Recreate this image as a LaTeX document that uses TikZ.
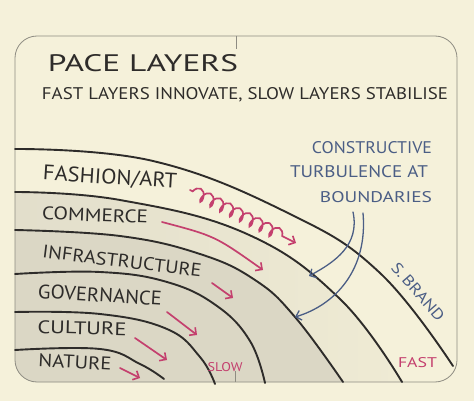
\documentclass[tikz,border=0pt]{standalone}
\usepackage{fontspec}
\setmainfont{PT Sans}
\usepackage{graphicx}
\usetikzlibrary{arrows.meta,decorations.pathmorphing}
\definecolor{bgc}{HTML}{F5F1DA}
\definecolor{bandlight}{HTML}{E2DECB}
\definecolor{bandfade}{HTML}{EFEBD4}
\definecolor{banddark}{HTML}{DBD7C5}
\definecolor{ink}{HTML}{2E2C2A}
\definecolor{pinkink}{HTML}{C4406E}
\definecolor{blueink}{HTML}{4B5E85}
\definecolor{edge}{HTML}{8E8C82}
\newcommand{\handtxt}[3]{\resizebox{#1pt}{#2pt}{#3}}
\tikzset{
  layer/.style={draw=ink, line width=1.9pt, line cap=round},
  lbl/.style={inner sep=0pt, text=ink},
  pinklbl/.style={inner sep=0pt, text=pinkink},
  bluelbl/.style={inner sep=0pt, text=blueink},
  pinkarrow/.style={draw=pinkink, line width=1.7pt, line cap=round,
    -{Straight Barb[length=5pt,width=10pt,line width=1.6pt]}},
  bluearrow/.style={draw=blueink, line width=1.3pt, line cap=round,
    -{Straight Barb[length=5pt,width=10pt,line width=1.3pt]}},
  tickmark/.style={draw=edge, line width=0.6pt}
}
\begin{document}
\begin{tikzpicture}[x=1pt,y=-1pt]
\useasboundingbox (0,0) rectangle (474,401);
\fill[bgc] (0,0) rectangle (474,401);
% shading of the slower layers
\begin{scope}
  \clip[rounded corners=22pt] (15,36) rectangle (457,382);
  \shade[left color=bandlight, right color=bandfade]
    plot[smooth, tension=0.7] coordinates {(15,192) (120,200) (247,234) (340,299) (402,384)}
    -- (15,384) -- cycle;
  \fill[banddark]
    plot[smooth, tension=0.7] coordinates {(15,230) (120,236) (200,254) (255,280) (295,317) (343,384)}
    -- (15,384) -- cycle;
\end{scope}
% card
\draw[edge, line width=0.8pt, rounded corners=22pt] (15,36) rectangle (457,382);
\draw[tickmark] (236,36) -- (236,49);
\draw[tickmark] (235,371) -- (235,382);
% titles
\node[lbl] (title) at (143,63.5) {\handtxt{190}{17}{PACE LAYERS}};
\node[lbl] (subtitle) at (245,94.5) {\handtxt{406}{12}{FAST LAYERS INNOVATE, SLOW LAYERS STABILISE}};
% layer lines
\draw[layer] plot[smooth, tension=0.7] coordinates {(15,149) (153,161) (290,214) (380,273) (453,366)};
\draw[layer] plot[smooth, tension=0.7] coordinates {(15,192) (120,200) (247,234) (340,299) (402,382)};
\draw[layer] plot[smooth, tension=0.7] coordinates {(15,230) (120,236) (200,254) (255,280) (295,317) (343,382)};
\draw[layer] plot[smooth, tension=0.7] coordinates {(15,274) (100,272) (167,282) (217,306) (250,341) (265,383)};
\draw[layer] plot[smooth, tension=0.7] coordinates {(15,312) (100,314) (167,329) (200,357) (215,384)};
\draw[layer] plot[smooth, tension=0.7] coordinates {(15,350) (100,349) (140,364) (164,379)};
% layer labels
\node[lbl, rotate=-3.5] (fashion) at (110,178) {\handtxt{134}{15}{FASHION/ART}};
\node[lbl, rotate=-2] (commerce) at (95,215) {\handtxt{106}{13}{COMMERCE}};
\node[lbl, rotate=-7] (infra) at (122,261) {\handtxt{160}{13}{INFRASTRUCTURE}};
\node[lbl, rotate=-3.5] (gov) at (100,295) {\handtxt{124}{14}{GOVERNANCE}};
\node[lbl, rotate=-1.5] (culture) at (82,328) {\handtxt{89}{13}{CULTURE}};
\node[lbl, rotate=-3] (nature) at (75,362) {\handtxt{73}{13}{NATURE}};
% speed labels
\node[pinklbl] (slow) at (225,367) {\handtxt{35}{9}{SLOW}};
\node[pinklbl] (fast) at (417.5,363) {\handtxt{39}{10}{FAST}};
\node[bluelbl, rotate=-49] (brand) at (418,292) {\handtxt{72}{11}{S.\,BRAND}};
% turbulence note
\node[bluelbl] (note1) at (372,147.5) {\handtxt{120}{12}{CONSTRUCTIVE}};
\node[bluelbl] (note2) at (359,171.5) {\handtxt{138}{12}{TURBULENCE AT}};
\node[bluelbl] (note3) at (376,197) {\handtxt{112}{11}{BOUNDARIES}};
% pink arrows
\coordinate (fa1) at (190,190); \coordinate (fa2) at (296,243);
\coordinate (co1) at (162,222); \coordinate (co2) at (263,270);
\coordinate (in1) at (212,283); \coordinate (in2) at (233,298);
\coordinate (go1) at (167,312); \coordinate (go2) at (197,335);
\coordinate (cu1) at (135,338); \coordinate (cu2) at (167,360);
\coordinate (na1) at (120,368); \coordinate (na2) at (140,378);
\draw[pinkarrow, decoration={coil, amplitude=6pt, segment length=11pt, aspect=0.55, pre length=3pt, post length=7pt}, decorate] (fa1) -- (fa2);
\draw[pinkarrow] (co1) .. controls (215,236) .. (co2);
\draw[pinkarrow] (in1) -- (in2);
\draw[pinkarrow] (go1) -- (go2);
\draw[pinkarrow] (cu1) -- (cu2);
\draw[pinkarrow] (na1) -- (na2);
% blue arrows
\coordinate (b1s) at (353,212); \coordinate (b1e) at (309,276);
\coordinate (b2s) at (363,213); \coordinate (b2e) at (295,317);
\draw[bluearrow] (b1s) .. controls (360,245) and (335,262) .. (b1e);
\draw[bluearrow] (b2s) .. controls (368,270) and (335,305) .. (b2e);
\end{tikzpicture}
\end{document}
